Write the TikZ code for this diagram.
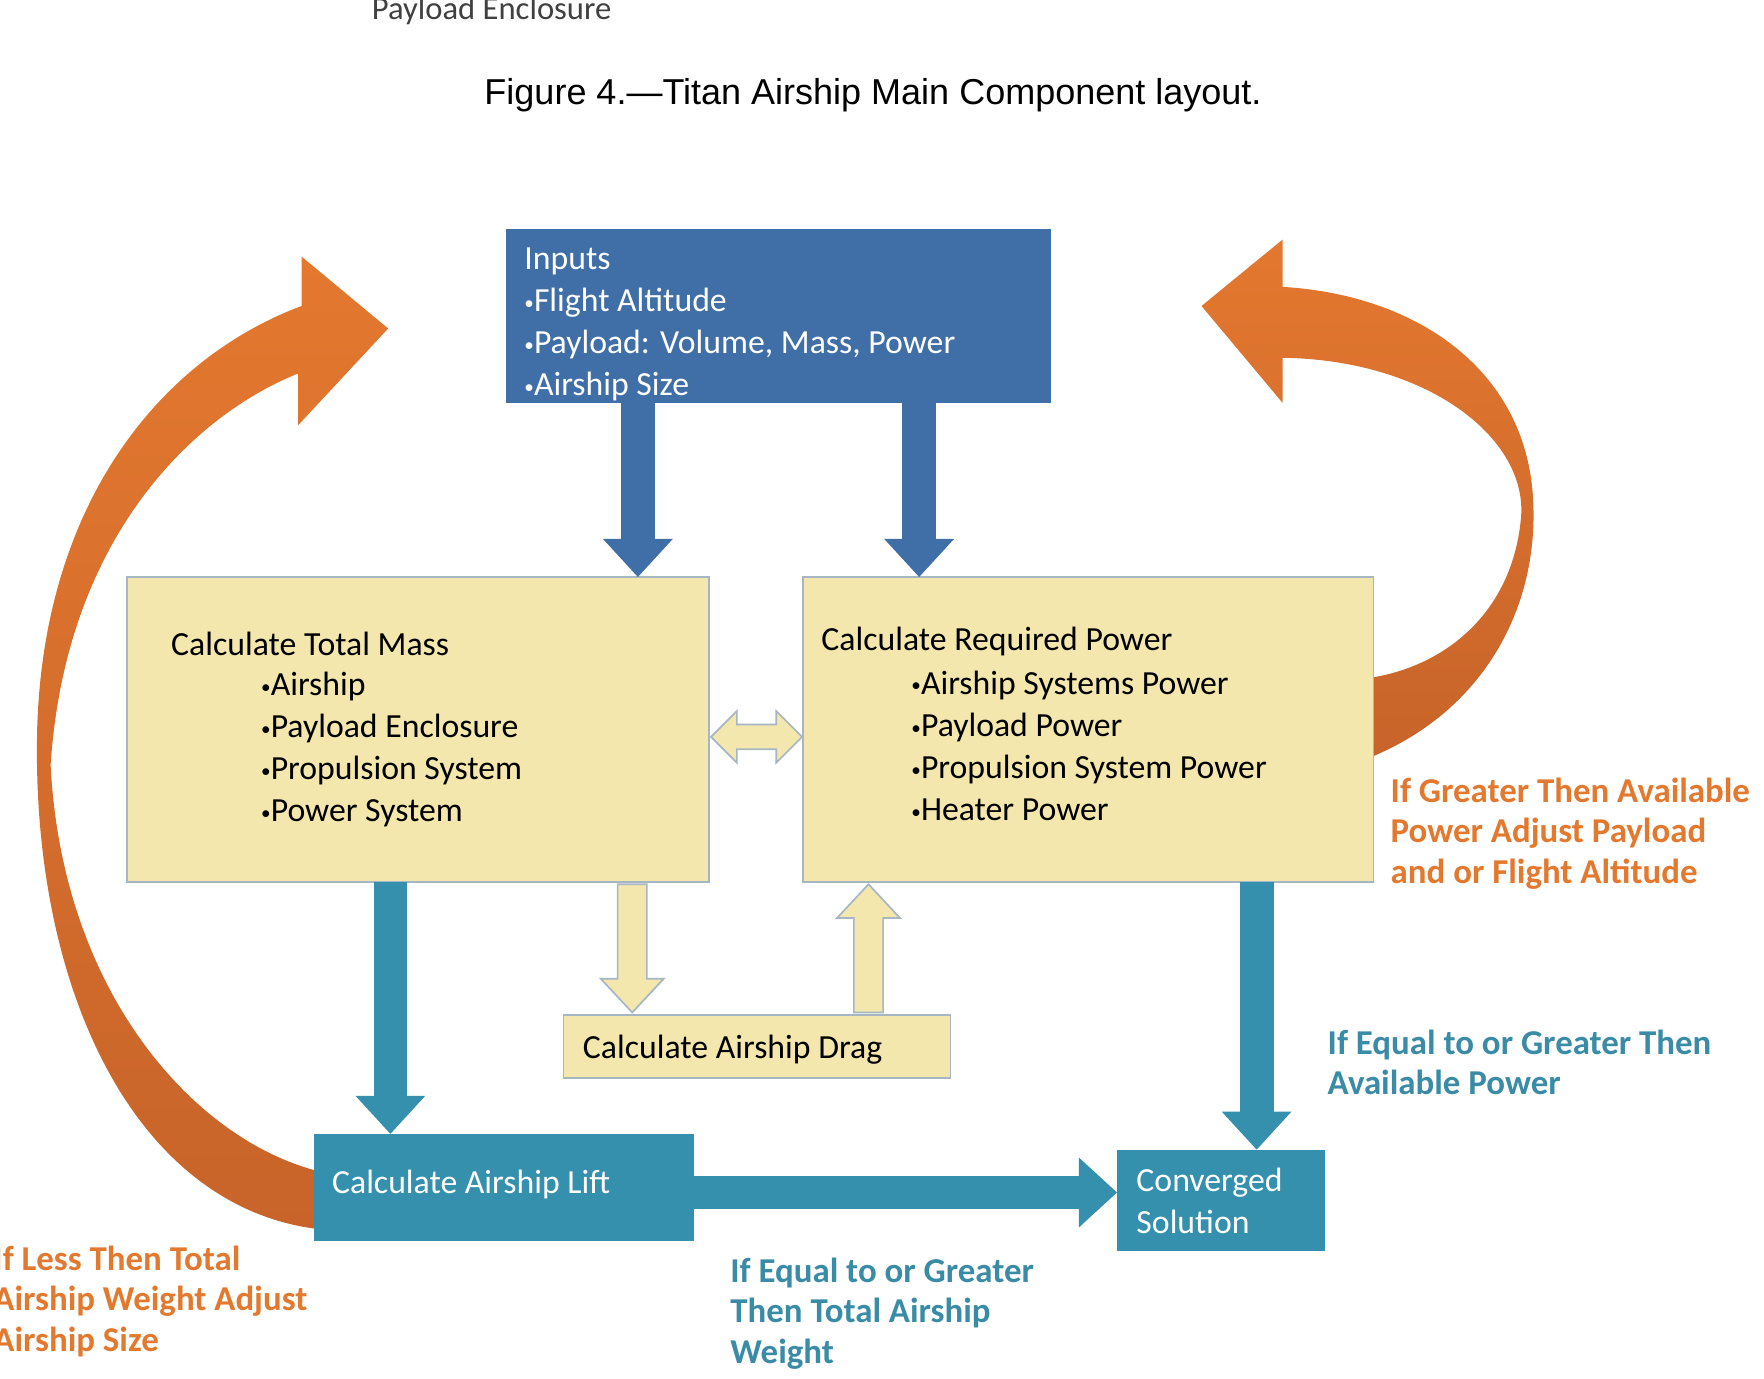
\documentclass[tikz,border=0pt]{standalone}
\usepackage{fontspec}
\setmainfont{Carlito}
\newfontfamily\capfont{Liberation Sans}
\usetikzlibrary{arrows.meta}
\definecolor{inblue}{HTML}{3F6FA6}
\definecolor{boxyel}{HTML}{F3E7AE}
\definecolor{boxedge}{HTML}{A7B6C3}
\definecolor{teal}{HTML}{3590AE}
\definecolor{orng}{HTML}{E3782F}
\definecolor{orngdk}{HTML}{C8642A}
\definecolor{tealtxt}{HTML}{3A8BA6}
\newcommand{\bul}{{\fontsize{17}{17}\selectfont\raisebox{2pt}{•}}}
\tikzset{
  txt/.style={font=\fontsize{30}{37.5}\selectfont, anchor=west, inner sep=0pt, align=left},
  note/.style={font=\bfseries\fontsize{31}{36}\selectfont, anchor=north west, inner sep=0pt, align=left},
  blk/.style={draw=boxedge, line width=1.5pt, fill=boxyel},
  bluearr/.style={draw=inblue, line width=30pt, -{Triangle[length=34pt 0,width=60pt 0]}},
  tealarr/.style={draw=teal, line width=30pt, -{Triangle[length=34pt 0,width=60pt 0]}},
  yelarr/.style={fill=boxyel, draw=boxedge, line width=1.5pt, line join=miter},
}
\begin{document}
\begin{tikzpicture}[x=1pt,y=-1pt]
\useasboundingbox (0,0) rectangle (1568,1225);
% header text
\node[font=\fontsize{29}{30}\selectfont, text=black!75, inner sep=0pt] (prev) at (437,10) {Payload Enclosure};
\node[font=\capfont\fontsize{32}{34}\selectfont, inner sep=0pt] (cap) at (776,85) {Figure 4.—Titan Airship Main Component layout.};

% orange curved arrows
\path[top color=orng, bottom color=orngdk]
  (279,1092) .. controls (120,1070) and (28,880) .. (33,650)
  .. controls (38,450) and (140,320) .. (268,272) -- (268,228) -- (345,292) -- (265,378) -- (265,332)
  .. controls (170,370) and (58,480) .. (45,680)
  .. controls (55,880) and (170,1010) .. (279,1040) -- cycle;
\path[top color=orng, bottom color=orngdk]
  (1221,672) .. controls (1320,630) and (1366,540) .. (1363,450)
  .. controls (1360,330) and (1260,262) .. (1140,255) -- (1140,213) -- (1068,272) -- (1140,358) -- (1140,318)
  .. controls (1270,320) and (1358,390) .. (1352,460)
  .. controls (1345,540) and (1290,590) .. (1221,602) -- cycle;

% boxes
\fill[inblue] (450,204) rectangle (934,358);
\node[txt, text=white, anchor=north west] (inp) at (466,220) {Inputs\\\bul Flight Altitude\\\bul Payload: Volume, Mass, Power\\\bul Airship Size};
\coordinate (inpA) at (567,358); \coordinate (inpB) at (817,358);
\draw[blk] (113,513) rectangle (630,784);
\coordinate (massA) at (567,513); \coordinate (massB) at (347,784);
\node[txt] (mass) at (152,572) {Calculate Total Mass};
\node[txt, anchor=north west] (massl) at (232,597) {\bul Airship\\\bul Payload Enclosure\\\bul Propulsion System\\\bul Power System};
\draw[blk] (714,513) rectangle (1221,784);
\coordinate (powA) at (817,513); \coordinate (powB) at (1117,784);
\node[txt] (pow) at (730,570) {Calculate Required Power};
\node[txt, anchor=north west] (powl) at (810,596) {\bul Airship Systems Power\\\bul Payload Power\\\bul Propulsion System Power\\\bul Heater Power};
\draw[blk] (501,902) rectangle (845,958);
\node[txt] (drag) at (518,933) {Calculate Airship Drag};
\fill[teal] (279,1008) rectangle (617,1103);
\coordinate (liftN) at (347,1008); \coordinate (liftE) at (617,1060);
\node[txt, text=white] (lift) at (295,1053) {Calculate Airship Lift};
\fill[teal] (993,1022) rectangle (1178,1112);
\coordinate (convN) at (1117,1022); \coordinate (convW) at (993,1060);
\node[txt, text=white, anchor=north west] (conv) at (1010,1038) {Converged\\Solution};

% block arrows
\draw[bluearr] (inpA) -- (massA);
\draw[bluearr] (inpB) -- (powA);
\draw[tealarr] (massB) -- (liftN);
\draw[tealarr] (powB) -- (convN);
\draw[tealarr] (liftE) -- (convW);
% yellow arrows
\draw[yelarr] (632,655) -- (655,632) -- (655,644) -- (690,644) -- (690,632) -- (713,655)
  -- (690,678) -- (690,666) -- (655,666) -- (655,678) -- cycle;
\draw[yelarr] (549,786) -- (575,786) -- (575,870) -- (590,870) -- (562,900) -- (534,870) -- (549,870) -- cycle;
\draw[yelarr] (759,900) -- (785,900) -- (785,816) -- (800,816) -- (772,786) -- (744,816) -- (759,816) -- cycle;

% notes
\node[note, text=orng] (n1) at (-6,1107) {If Less Then Total\\Airship Weight Adjust\\Airship Size};
\node[note, text=orng] (n2) at (1236,691) {If Greater Then Available\\Power Adjust Payload\\and or Flight Altitude};
\node[note, text=tealtxt] (n3) at (1180,915) {If Equal to or Greater Then\\Available Power};
\node[note, text=tealtxt] (n4) at (649,1118) {If Equal to or Greater\\Then Total Airship\\Weight};
\end{tikzpicture}
\end{document}
